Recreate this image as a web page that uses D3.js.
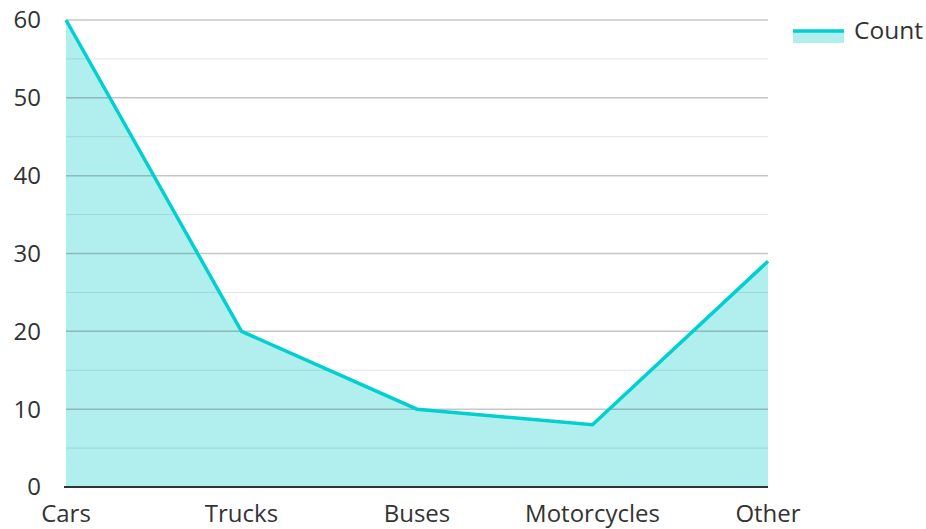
<!DOCTYPE html>
<html>
<head>
<meta charset="utf-8">
<script src="https://cdn.jsdelivr.net/npm/d3@7"></script>
<style>
  body { margin: 0; background: #fff; }
  text { font-family: "Open Sans", sans-serif; fill: #333; }
</style>
</head>
<body>
<div class="chart"></div>
<script>
var categories = ['Cars', 'Trucks', 'Buses', 'Motorcycles', 'Other'];
var counts = [60, 20, 10, 8, 29];
var yTicks = [0, 10, 20, 30, 40, 50, 60];
var minorTicks = [5, 15, 25, 35, 45, 55];
var seriesName = 'Count';

var margin = {top: 20, right: 158, bottom: 42, left: 66};
var width = 926 - margin.left - margin.right;
var height = 529 - margin.top - margin.bottom;

var data = categories.map((c, i) => ({name: c, value: counts[i]}));

var xScale = d3.scalePoint()
    .domain(categories)
    .range([0, width]);
var yScale = d3.scaleLinear()
    .domain([0, 60])
    .range([height, 0]);

var svg = d3.select('div.chart').append('svg')
    .attr('width', 926)
    .attr('height', 529)
  .append('g')
    .attr('transform', 'translate(' + margin.left + ',' + margin.top + ')');

// fill first, grid on top so it shows through
var area = d3.area()
    .x(d => xScale(d.name))
    .y0(height)
    .y1(d => yScale(d.value));

svg.append('path')
    .datum(data)
    .attr('d', area)
    .attr('fill', '#b1efee');

svg.selectAll('.minor')
  .data(minorTicks).enter().append('line')
    .attr('x1', 0).attr('x2', width)
    .attr('y1', d => yScale(d)).attr('y2', d => yScale(d))
    .attr('stroke', 'rgba(0,0,0,0.1)')
    .attr('stroke-width', 1);

svg.selectAll('.major')
  .data(yTicks.filter(d => d > 0)).enter().append('line')
    .attr('x1', 0).attr('x2', width)
    .attr('y1', d => yScale(d)).attr('y2', d => yScale(d))
    .attr('stroke', 'rgba(0,0,0,0.22)')
    .attr('stroke-width', 1.5);

var line = d3.line()
    .x(d => xScale(d.name))
    .y(d => yScale(d.value));

svg.append('path')
    .datum(data)
    .attr('d', line)
    .attr('fill', 'none')
    .attr('stroke', '#00d0cf')
    .attr('stroke-width', 3.5)
    .attr('stroke-linejoin', 'miter');

// baseline
svg.append('line')
    .attr('x1', -2).attr('x2', width)
    .attr('y1', height).attr('y2', height)
    .attr('stroke', '#333')
    .attr('stroke-width', 2);

svg.selectAll('.ylab')
  .data(yTicks).enter().append('text')
    .attr('x', -25)
    .attr('y', d => yScale(d))
    .attr('dy', '0.35em')
    .attr('text-anchor', 'end')
    .attr('font-size', 24)
    .text(d => d);

svg.selectAll('.xlab')
  .data(categories).enter().append('text')
    .attr('x', d => xScale(d))
    .attr('y', height + 35)
    .attr('text-anchor', 'middle')
    .attr('font-size', 24)
    .text(d => d);

// legend
var lg = svg.append('g')
    .attr('transform', 'translate(' + (width + 25) + ',0)');
lg.append('rect')
    .attr('x', 0).attr('y', 11)
    .attr('width', 51).attr('height', 12)
    .attr('fill', '#b1efee');
lg.append('line')
    .attr('x1', 0).attr('x2', 51)
    .attr('y1', 11).attr('y2', 11)
    .attr('stroke', '#00d0cf')
    .attr('stroke-width', 3.5);
lg.append('text')
    .attr('x', 61)
    .attr('y', 19)
    .attr('font-size', 24.5)
    .text(seriesName);
</script>
</body>
</html>
